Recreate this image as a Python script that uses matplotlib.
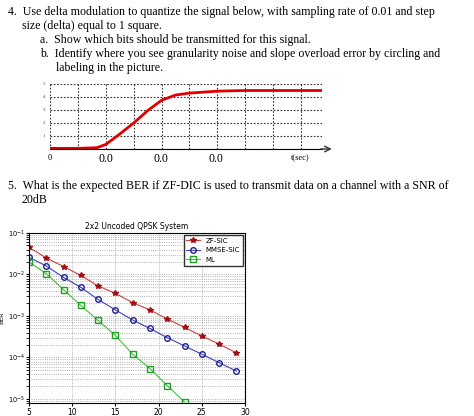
import numpy as np
import matplotlib.pyplot as plt

# top signal (grid units)
sig_t = [0, 1.0, 1.68, 2.0, 2.5, 3.0, 3.5, 4.0, 4.5, 5.0, 6.0, 7.0, 8.0, 9.75]
sig_y = [0.05, 0.05, 0.1, 0.35, 1.15, 2.0, 2.95, 3.75, 4.15, 4.3, 4.45, 4.5, 4.5, 4.5]

# BER curves
snr = [5, 7, 9, 11, 13, 15, 17, 19, 21, 23, 25, 27, 29]
ber_zf = [4.5e-2, 2.5e-2, 1.55e-2, 9.5e-3, 5.3e-3, 3.5e-3, 2.1e-3, 1.4e-3, 8.5e-4, 5.3e-4, 3.3e-4, 2.1e-4, 1.3e-4]
ber_mmse = [2.6e-2, 1.6e-2, 8.5e-3, 4.9e-3, 2.5e-3, 1.4e-3, 8e-4, 5e-4, 3e-4, 1.9e-4, 1.2e-4, 7.5e-5, 4.7e-5]
snr_ml = [5, 7, 9, 11, 13, 15, 17, 19, 21, 23]
ber_ml = [2e-2, 1.05e-2, 4.3e-3, 1.8e-3, 7.8e-4, 3.4e-4, 1.2e-4, 5.4e-5, 2.1e-5, 8.5e-6]

W, H = 474, 416
fig = plt.figure(figsize=(W / 100, H / 100), dpi=100)
serif = 'Liberation Serif'


def txt(x, y, s, size=8.6, **kw):
    fig.text(x / W, 1 - y / H, s, family=serif, fontsize=size, va='center', **kw)


txt(8, 12, "4.  Use delta modulation to quantize the signal below, with sampling rate of 0.01 and step")
txt(22, 26, "size (delta) equal to 1 square.")
txt(40, 40, "a.  Show which bits should be transmitted for this signal.")
txt(40, 54, "b.  Identify where you see granularity noise and slope overload error by circling and")
txt(56, 68, "labeling in the picture.")
txt(8, 186, "5.  What is the expected BER if ZF-DIC is used to transmit data on a channel with a SNR of")
txt(22, 200, "20dB")

# top chart
ax1 = fig.add_axes([50 / W, 1 - 149 / H, 272 / W, 65 / H])
ax1.plot(sig_t, sig_y, color='#e00000', lw=2)
ax1.set_xlim(0, 9.75)
ax1.set_ylim(0, 5)
ax1.set_xticks(range(10))
ax1.set_yticks(range(6))
ax1.grid(True, color='#333333', ls=(0, (1.5, 1.5)), lw=0.8)
for s in ['top', 'right', 'left']:
    ax1.spines[s].set_visible(False)
ax1.tick_params(length=0, labelbottom=False, labelleft=False)
ax1.annotate('', xy=(10.2, 0), xytext=(9.6, 0), annotation_clip=False,
             arrowprops=dict(arrowstyle='->', color='#333333', lw=1))
for i, lab in enumerate(["5", "4", "3", "2", "1"]):
    fig.text(43 / W, 1 - (84 + 13 * i) / H, lab, fontsize=3.5, family=serif, va='center', color='#444444')
txt(50, 158, "0", size=6, ha='center')
for x in [106, 161, 216]:
    txt(x, 159, "0.0", ha='center')
txt(300, 158, "t(sec)", size=6, ha='center')

# bottom chart
ax2 = fig.add_axes([29 / W, 1 - 403 / H, 216 / W, 170 / H])
ax2.semilogy(snr, ber_zf, color='#d04040', marker='*', ms=4, mec='#a01010', mfc='#a01010', lw=0.8, label='ZF-SIC')
ax2.semilogy(snr, ber_mmse, color='#4040c0', marker='o', ms=4, mfc='none', mec='#202090', lw=0.8, label='MMSE-SIC')
ax2.semilogy(snr_ml, ber_ml, color='#40c040', marker='s', ms=4, mfc='none', mec='#20a020', lw=0.8, label='ML')
ax2.set_xlim(5, 30)
ax2.set_ylim(8e-6, 1e-1)
ax2.set_xticks([5, 10, 15, 20, 25, 30])
ax2.grid(True, which='both', color='#999999', ls=':', lw=0.6)
ax2.tick_params(labelsize=5.5, length=2, which='both', pad=1.5)
ax2.tick_params(axis='y', labelsize=4.8, pad=1)
ax2.set_title('2x2 Uncoded QPSK System', fontsize=5.5, pad=3)
ax2.set_ylabel('BER', fontsize=4.5, labelpad=0)
ax2.yaxis.set_label_coords(-25 / 216, 0.5)
ax2.legend(loc='upper right', fontsize=5, frameon=True, fancybox=False, edgecolor='black', borderaxespad=0.3)

fig.savefig('out.png', dpi=100)
